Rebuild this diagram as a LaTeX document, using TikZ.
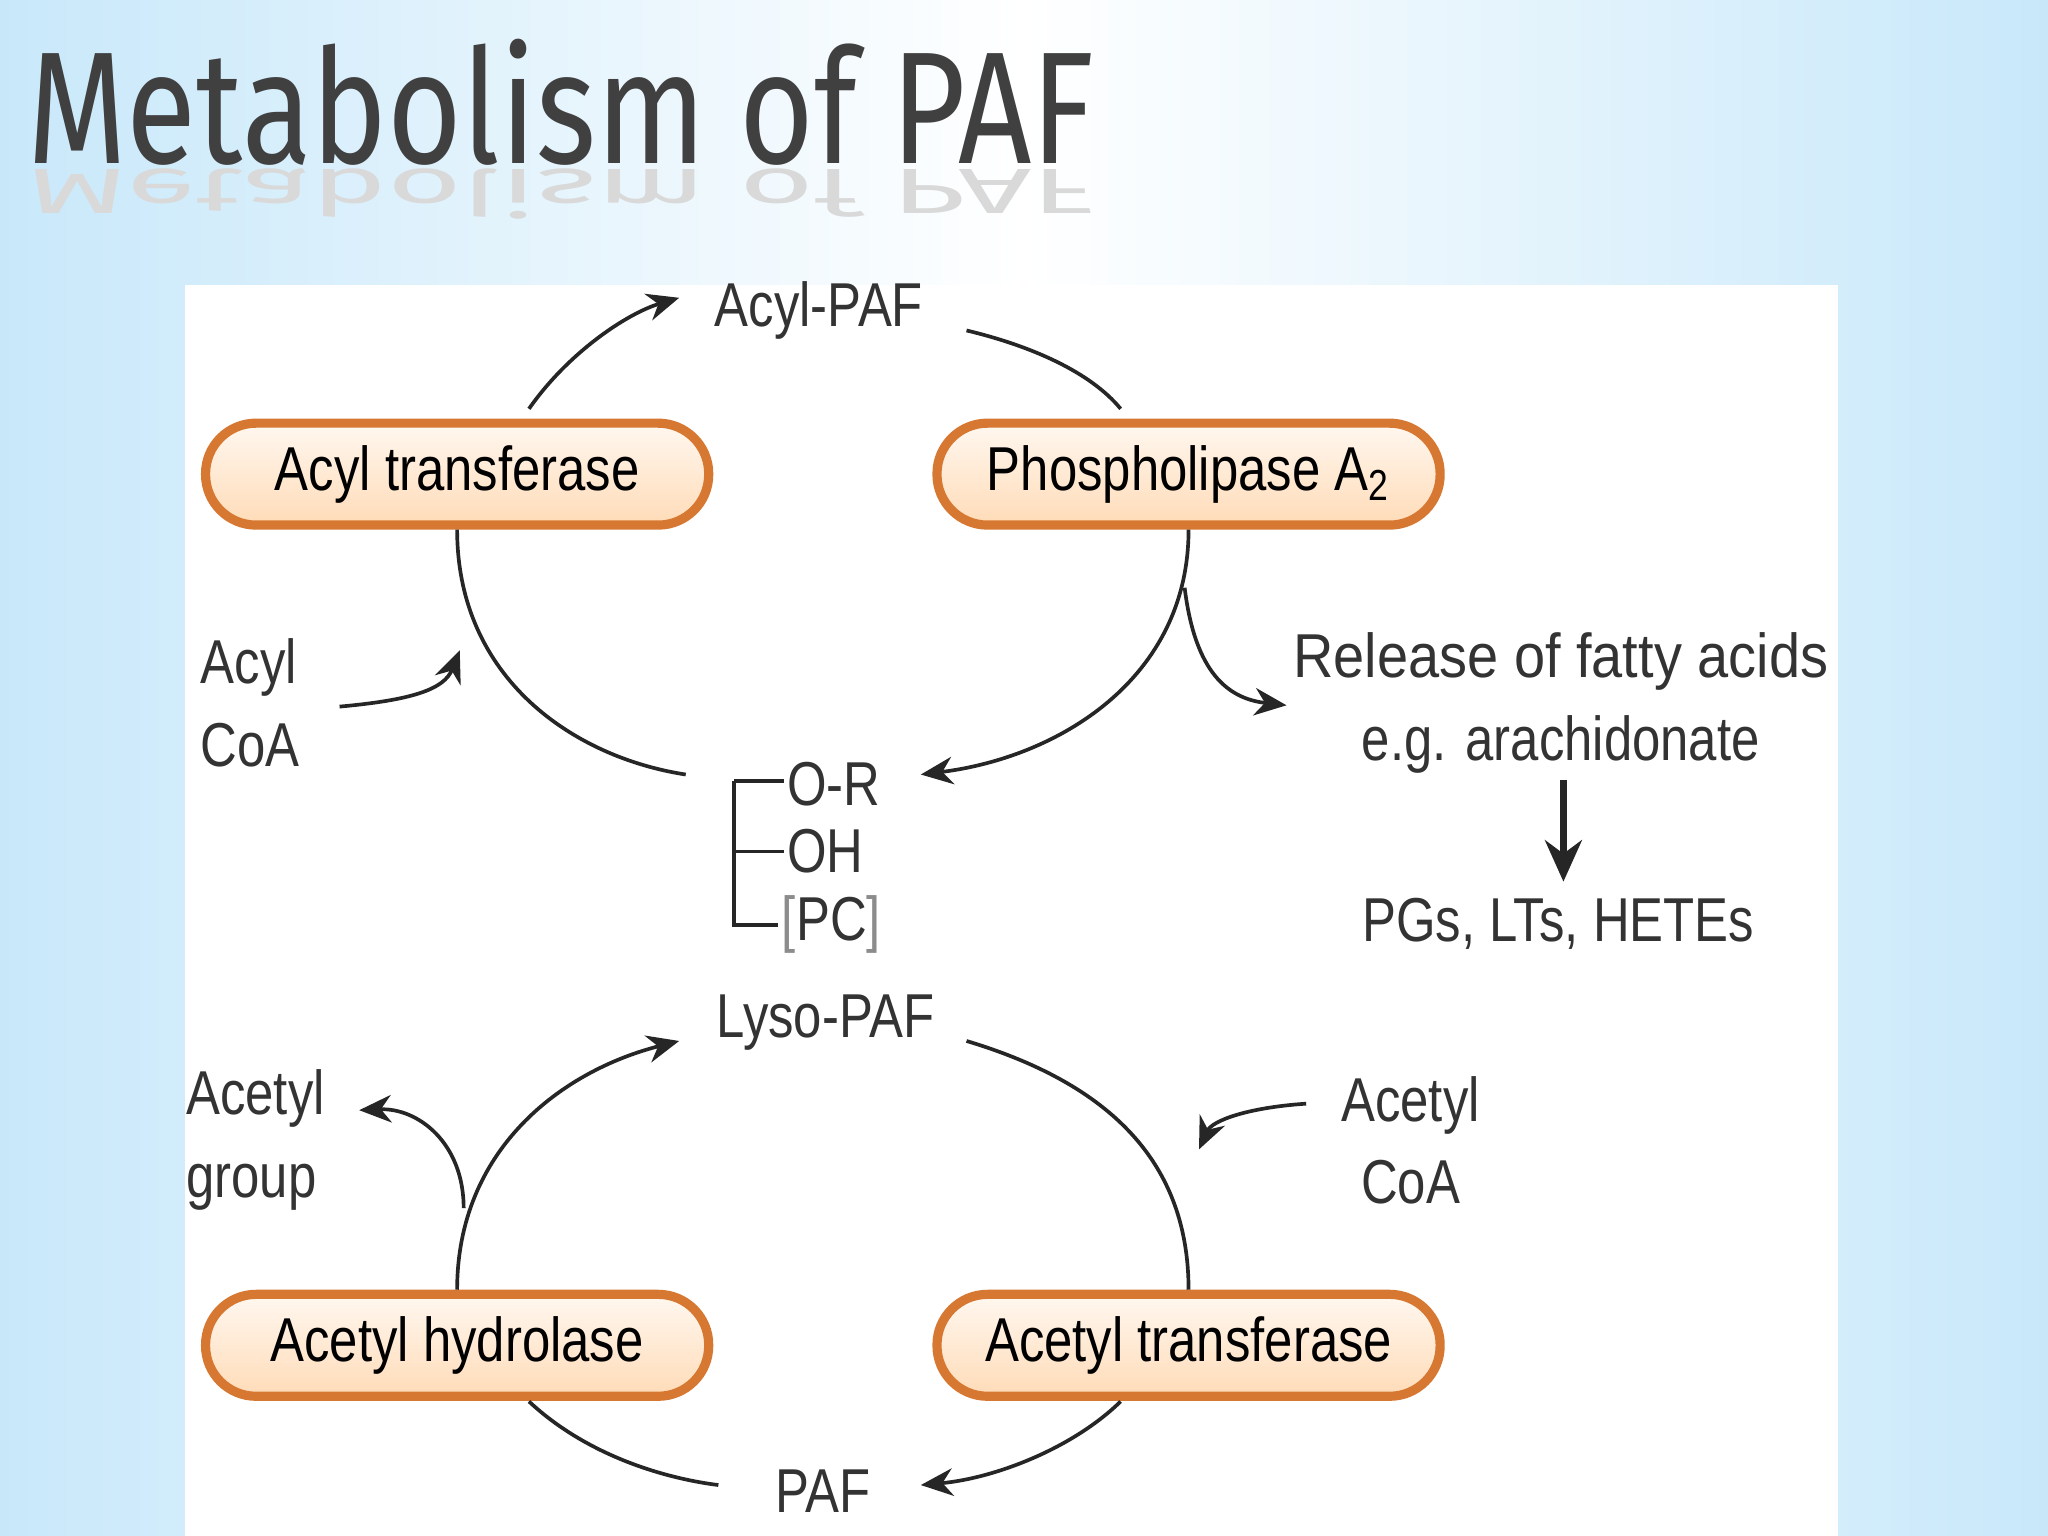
\documentclass[tikz,border=0pt]{standalone}
\usepackage{fontspec}
\setmainfont{Liberation Sans}
\newfontfamily\titlefont{Fira Sans}
\usetikzlibrary{arrows.meta}
\newcommand{\nt}[1]{\scalebox{0.82}[1]{#1}}
\definecolor{edgeblue}{RGB}{135,200,240}
\definecolor{midblue}{RGB}{200,232,250}
\definecolor{pillline}{RGB}{215,120,50}
\pgfdeclarehorizontalshading{bgsh}{100bp}{color(0bp)=(edgeblue);color(25bp)=(midblue);color(50bp)=(white);color(75bp)=(midblue);color(100bp)=(edgeblue)}
\tikzset{
  pill/.style={draw=pillline,line width=2pt,rounded corners=11pt,
    top color=orange!6,bottom color=orange!28,minimum width=3.85cm,minimum height=0.78cm,
    font=\fontsize{13.5}{14}\selectfont},
  lbl/.style={font=\fontsize{13.5}{16}\selectfont,text=black!80,inner sep=0pt},
  arc/.style={line width=0.8pt,black!85},
  arr/.style={arc,-{Stealth[length=7pt,width=6pt]}}
}
\begin{document}
\begin{tikzpicture}[x=0.01cm,y=-0.01cm]
\useasboundingbox (0,0) rectangle (1568,1176);
\shade[shading=bgsh] (0,0) rectangle (1568,1176);
\fill[white] (142,218) rectangle (1407,1176);
\node[anchor=base west,inner sep=0pt,text=black!75] (title) at (20,125)
  {\titlefont\fontsize{31}{31}\selectfont\scalebox{0.9}[1.12]{Metabolism of PAF}};
\node[anchor=north west,inner sep=0pt,text=black!15,yscale=-0.4] (refl) at (20,168)
  {\titlefont\fontsize{31}{31}\selectfont\scalebox{0.9}[1.12]{Metabolism of PAF}};

\node[pill] (at) at (350,363) {\nt{Acyl transferase}};
\node[pill] (pl) at (910,363) {\nt{Phospholipase A\textsubscript{2}}};
\node[pill] (ah) at (350,1030) {\nt{Acetyl hydrolase}};
\node[pill] (ct) at (910,1030) {\nt{Acetyl transferase}};

\node[lbl] (acylpaf) at (627,238) {\nt{Acyl-PAF}};
\node[lbl,align=left,anchor=west] (acylcoa) at (153,538) {\nt{Acyl}\\[2pt]\nt{CoA}};
\node[lbl,align=center] (rel) at (1195,538) {\scalebox{1.1}[1]{\nt{Release of fatty acids}}\\[2pt]\nt{e.g. arachidonate}};
\node[lbl] (pgs) at (1193,707) {\nt{PGs, LTs, HETEs}};
\node[lbl,anchor=west] (or) at (602,600) {\nt{O-R}};
\node[lbl,anchor=west] (oh) at (602,652) {\nt{OH}};
\node[lbl,anchor=west] (pc) at (598,708) {\nt{\textcolor{black!45}{[}PC\textcolor{black!45}{]}}};
\node[lbl] (lyso) at (632,783) {\nt{Lyso-PAF}};
\node[lbl,align=left,anchor=west] (agrp) at (142,873) {\nt{Acetyl}\\[2pt]\nt{group}};
\node[lbl,align=center] (acoa) at (1080,873) {\nt{Acetyl}\\[2pt]\nt{CoA}};
\node[lbl] (paf) at (630,1142) {\nt{PAF}};

\draw[arc] (562,598) -- (600,598) (562,598) -- (562,708) -- (596,708) (562,652) -- (600,652);

\coordinate (a1) at (405,313); \coordinate (a2) at (520,228);
\coordinate (b1) at (740,253); \coordinate (b2) at (858,313);
\draw[arr] (a1) .. controls (435,270) and (480,240) .. (a2);
\draw[arc] (b1) .. controls (790,265) and (835,285) .. (b2);
\coordinate (c2) at (525,593); \coordinate (d2) at (705,593);
\draw[arc] (at.south) .. controls (350,520) and (440,580) .. (c2);
\draw[arr] (pl.south) .. controls (910,520) and (810,580) .. (d2);
\coordinate (e1) at (260,541); \coordinate (e2) at (352,498);
\draw[arr] (e1) .. controls (315,536) and (340,528) .. (e2);
\coordinate (f1) at (907,450); \coordinate (f2) at (985,540);
\draw[arc,-{Stealth[length=7pt,width=6pt]}] (f1) .. controls (915,515) and (940,535) .. (f2);
\coordinate (g1) at (1197,597); \coordinate (g2) at (1197,675);
\draw[arc,line width=1.5pt,-{Stealth[length=9pt,width=8pt]}] (g1) -- (g2);
\coordinate (h2) at (520,797);
\draw[arr] (ah.north) .. controls (350,880) and (430,820) .. (h2);
\coordinate (i1) at (355,925); \coordinate (i2) at (275,850);
\draw[arr] (i1) .. controls (355,875) and (320,848) .. (i2);
\coordinate (j1) at (740,797);
\draw[arc] (j1) .. controls (850,830) and (910,890) .. (ct.north);
\coordinate (k1) at (1000,845); \coordinate (k2) at (918,880);
\draw[arr] (k1) .. controls (955,848) and (928,858) .. (k2);
\coordinate (l1) at (405,1073); \coordinate (l2) at (550,1137);
\coordinate (m1) at (858,1073); \coordinate (m2) at (705,1137);
\draw[arc] (l1) .. controls (450,1115) and (510,1132) .. (l2);
\draw[arr] (m1) .. controls (820,1110) and (760,1132) .. (m2);
\end{tikzpicture}
\end{document}
